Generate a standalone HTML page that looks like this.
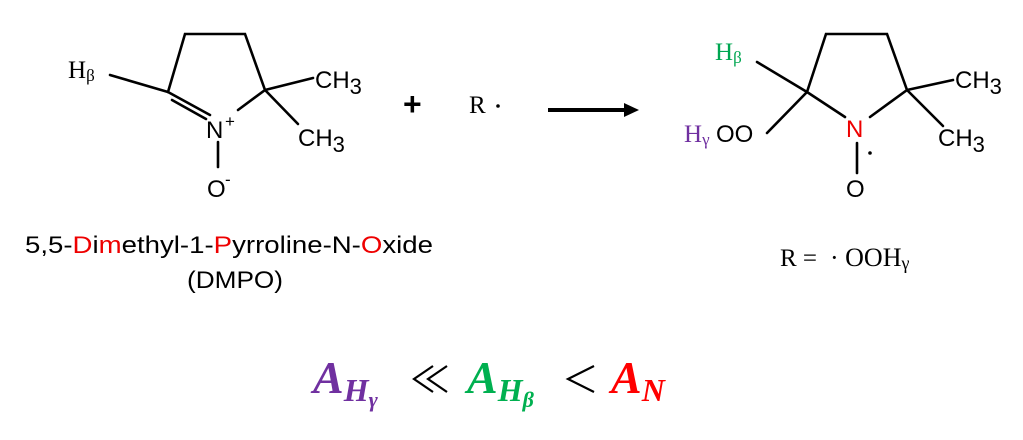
<!DOCTYPE html>
<html><head><meta charset="utf-8"><style>body{margin:0;background:#fff}svg{display:block}</style></head><body>
<svg width="1023" height="440" viewBox="0 0 1023 440" xmlns="http://www.w3.org/2000/svg">
<g stroke="#000" stroke-width="2.6" fill="none" stroke-linecap="round">
<path d="M168,92 L185,34 L245,34 L265,90 L238,110"/>
<path d="M168,92 L210,115"/>
<path d="M172,100 L206,119"/>
<path d="M110,75 L168,92"/>
<path d="M265,90 L313,78"/>
<path d="M265,90 L298,124"/>
<path d="M218,142 L218,167"/>
<path d="M807,92 L826,34 L887,34 L907,90 L870,117"/>
<path d="M807,92 L845,117"/>
<path d="M757,62 L807,92"/>
<path d="M807,92 L767,133"/>
<path d="M907,90 L953,80"/>
<path d="M907,90 L943,126"/>
<path d="M857,143 L857,173"/>
</g>
<g font-family="Liberation Sans, sans-serif" font-size="24" fill="#000">
<text x="315" y="88">CH<tspan font-size="22" dy="6">3</tspan></text>
<text x="298" y="146">CH<tspan font-size="22" dy="6">3</tspan></text>
<text x="206" y="138">N</text><text x="225" y="127" font-size="17">+</text>
<text x="207" y="197">O</text><text x="225" y="185" font-size="17">-</text>
<text x="955" y="88">CH<tspan font-size="22" dy="6">3</tspan></text>
<text x="938" y="146">CH<tspan font-size="22" dy="6">3</tspan></text>
<text x="846" y="137" fill="#e00">N</text>
<circle cx="870" cy="153" r="1.8" fill="#000"/>
<text x="846" y="197">O</text>
<text x="716" y="142">OO</text>
</g>
<g font-family="Liberation Serif, serif" font-size="25">
<text x="68" y="78">H<tspan font-size="17" dy="3">β</tspan></text>
<text x="715" y="60" fill="#00a651">H<tspan font-size="17" dy="3">β</tspan></text>
<text x="684" y="142" fill="#7030a0">H<tspan font-size="17" dy="3">γ</tspan></text>
<text x="469" y="113">R</text>
<text x="780" y="266">R =</text>
<text x="830" y="266" font-size="26">· OOH<tspan font-size="18" dy="3">γ</tspan></text>
</g>
<circle cx="498" cy="106" r="1.8" fill="#000"/>
<text x="403" y="115" font-family="Liberation Sans, sans-serif" font-size="32" font-weight="bold">+</text>
<path d="M548,110 L626,110" stroke="#000" stroke-width="4"/>
<path d="M624,103 L639,110 L624,117Z" fill="#000"/>
<g font-family="Liberation Sans, sans-serif" font-size="24">
<text x="25" y="253" textLength="408" lengthAdjust="spacingAndGlyphs">5,5-<tspan fill="#e00">D</tspan>i<tspan fill="#e00">m</tspan>ethyl-1-<tspan fill="#e00">P</tspan>yrroline-N-<tspan fill="#e00">O</tspan>xide</text>
<text x="187" y="288" textLength="96" lengthAdjust="spacingAndGlyphs">(DMPO)</text>
</g>
<g stroke="#000" stroke-width="2.2" fill="none">
<path d="M433,366 L414,379 L433,392"/>
<path d="M447,366 L428,379 L447,392"/>
<path d="M594,366 L568,379 L594,392"/>
</g>
<g font-family="Liberation Serif, serif" font-style="italic" font-weight="bold" font-size="46">
<text x="313" y="393" fill="#7030a0">A<tspan font-size="32" dy="8">H</tspan><tspan font-size="22" dy="6">γ</tspan></text>
<text x="467" y="393" fill="#00b050">A<tspan font-size="32" dy="8">H</tspan><tspan font-size="22" dy="6">β</tspan></text>
<text x="611" y="393" fill="#f00">A<tspan font-size="32" dy="8">N</tspan></text>
</g>
</svg>
</body></html>
